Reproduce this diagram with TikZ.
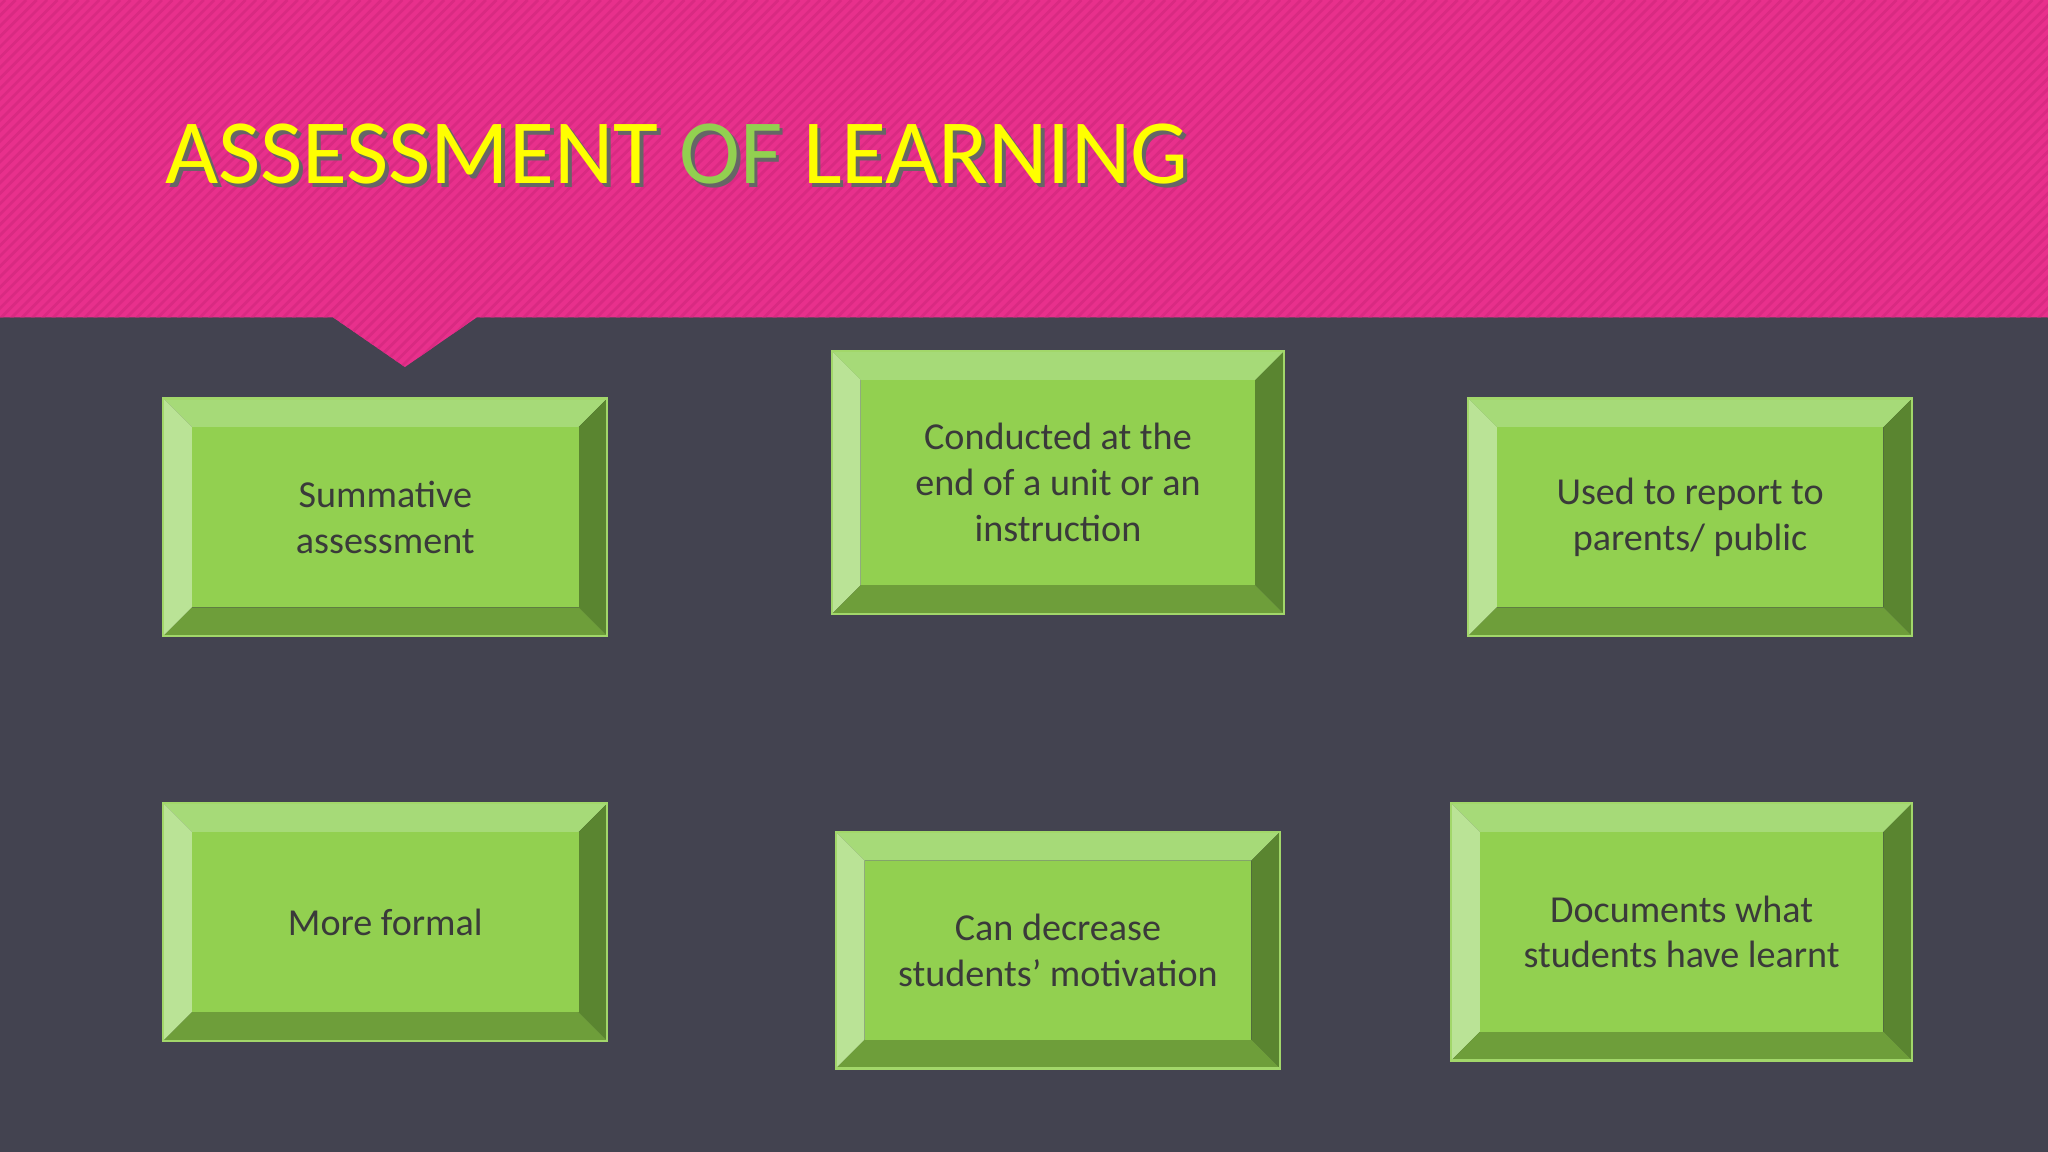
\documentclass[tikz,border=0pt]{standalone}
\usepackage{fontspec}
\setmainfont{Carlito}
\definecolor{bg}{HTML}{434350}
\definecolor{pinkb}{HTML}{E8308C}
\definecolor{pinks}{HTML}{D92A82}
\definecolor{ttl}{HTML}{FFFF00}
\definecolor{ofc}{HTML}{92D050}
\definecolor{fc}{HTML}{92D050}
\definecolor{btop}{HTML}{A6DA78}
\definecolor{bleft}{HTML}{BAE396}
\definecolor{bright}{HTML}{5A8530}
\definecolor{bbot}{HTML}{6E9E3A}
\definecolor{txt}{HTML}{3A3A3A}
\newcommand{\mybev}[6]{%
  \fill[btop] (#2,-#3) -- (#4,-#3) -- (#4-22,-#3-22) -- (#2+22,-#3-22) -- cycle;
  \fill[bleft] (#2,-#3) -- (#2+22,-#3-22) -- (#2+22,-#5+22) -- (#2,-#5) -- cycle;
  \fill[bright] (#4,-#3) -- (#4,-#5) -- (#4-22,-#5+22) -- (#4-22,-#3-22) -- cycle;
  \fill[bbot] (#2,-#5) -- (#4,-#5) -- (#4-22,-#5+22) -- (#2+22,-#5+22) -- cycle;
  \fill[fc] (#2+22,-#3-22) rectangle (#4-22,-#5+22);
  \draw[fc!85!white,line width=0.5pt] (#2,-#3) rectangle (#4,-#5);
  \node[boxtext] (#1) at ({(#2+#4)/2},{-(#3+#5)/2}) {#6};
}
\tikzset{boxtext/.style={text=txt,align=center,font=\fontsize{8.3pt}{10pt}\selectfont}}
\begin{document}
\begin{tikzpicture}[x=0.01cm,y=0.01cm]
\useasboundingbox (0,0) rectangle (1568,-882);
\fill[bg] (0,0) rectangle (1568,-882);
\fill[pinkb] (0,0) -- (1568,0) -- (1568,-243) -- (365,-243) -- (310,-281) -- (255,-243) -- (0,-243) -- cycle;
\begin{scope}
\clip (0,0) -- (1568,0) -- (1568,-243) -- (365,-243) -- (310,-281) -- (255,-243) -- (0,-243) -- cycle;
\foreach \i in {-300,-292,...,1870} {\draw[pinks,line width=0.6pt] (\i,0) -- (\i-290,-290);}
\end{scope}
\node[anchor=west,text=black!60,font=\fontsize{20pt}{24pt}\selectfont] at (117,-121) {ASSESSMENT OF LEARNING};
\node[anchor=west,font=\fontsize{20pt}{24pt}\selectfont] (title) at (114,-118) {\textcolor{ttl}{ASSESSMENT} \textcolor{ofc}{OF} \textcolor{ttl}{LEARNING}};
\mybev{b1}{125}{305}{465}{487}{Summative\\assessment}
\mybev{b2}{637}{269}{983}{470}{Conducted at the\\end of a unit or an\\instruction}
\mybev{b3}{1124}{305}{1464}{487}{Used to report to\\parents/ public}
\mybev{b4}{125}{615}{465}{797}{More formal}
\mybev{b5}{640}{637}{980}{818}{Can decrease\\students’ motivation}
\mybev{b6}{1111}{615}{1464}{812}{Documents what\\students have learnt}
\end{tikzpicture}
\end{document}
